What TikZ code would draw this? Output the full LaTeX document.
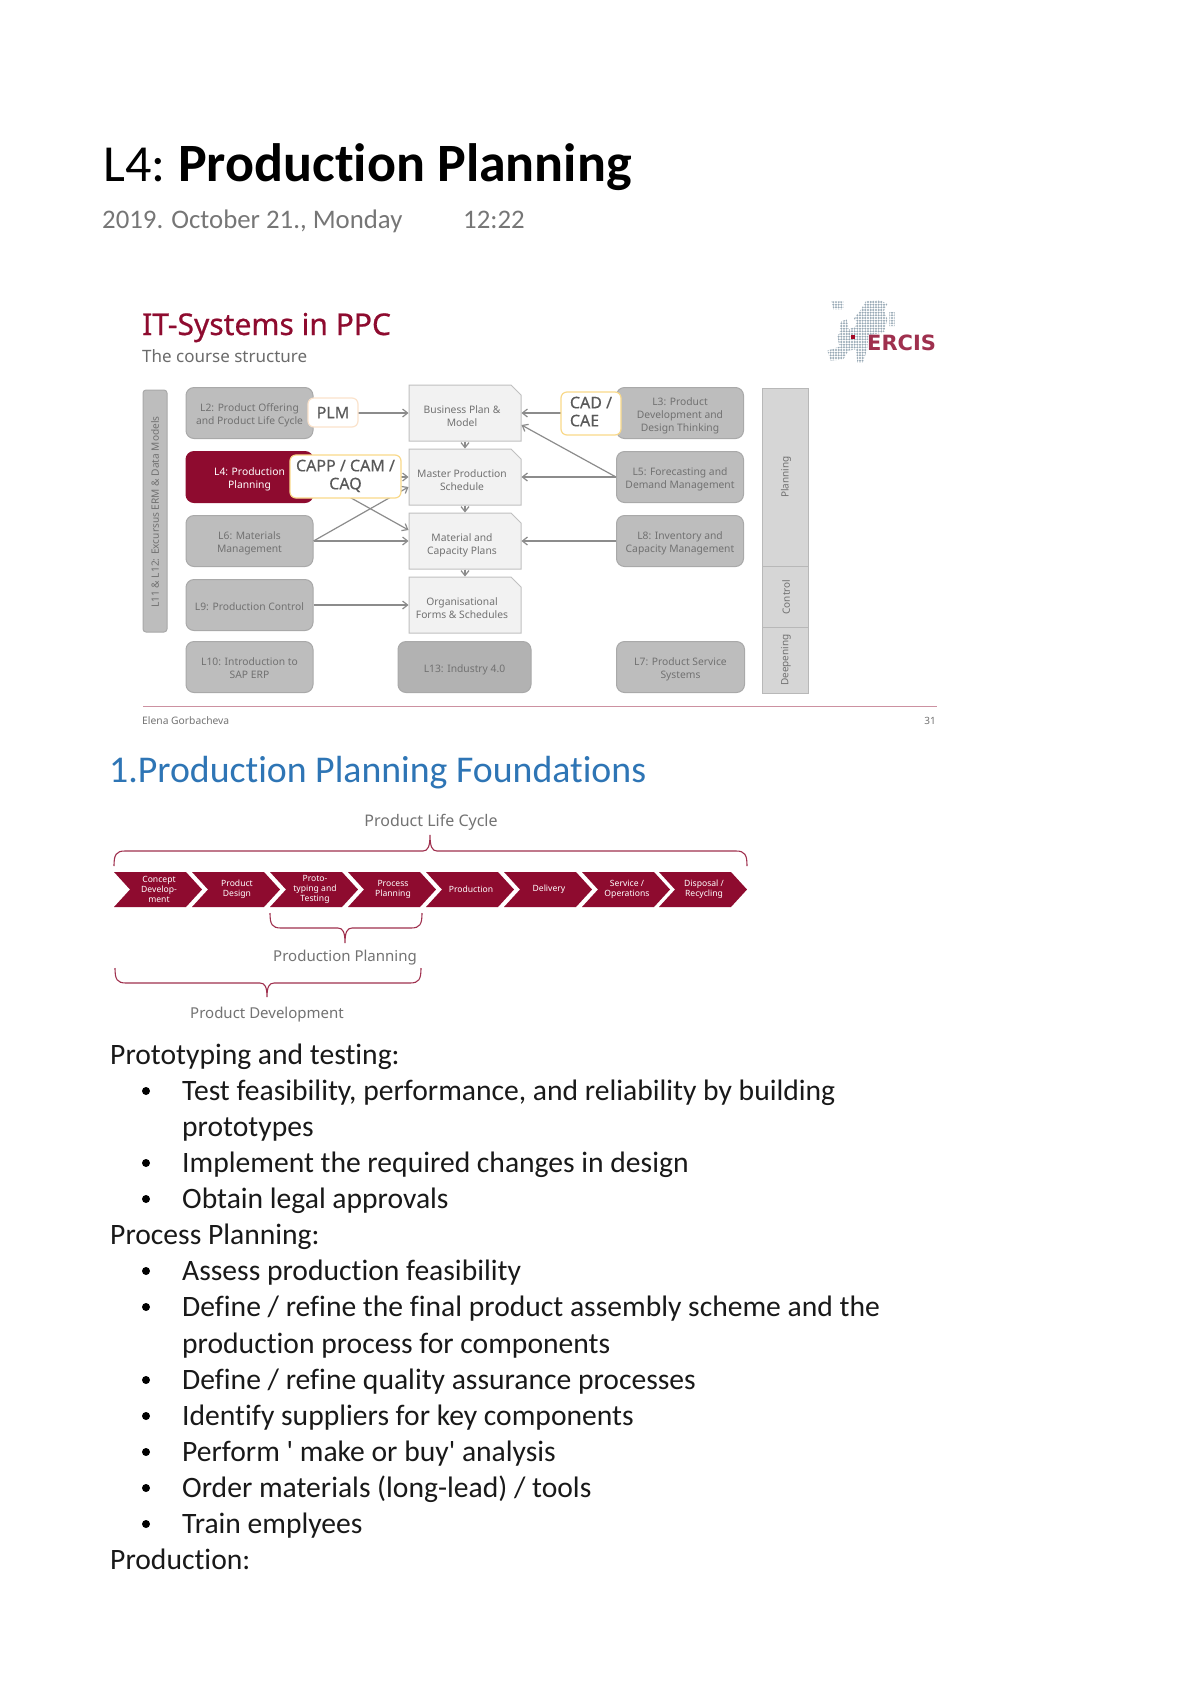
\documentclass[tikz,border=0pt]{standalone}
\usepackage{fontspec}
\usetikzlibrary{arrows.meta,shapes.misc}
\setmainfont[Ligatures={NoCommon}]{Carlito}
\newfontfamily\quotefont{Carlito}
\newfontfamily\slidefont{Noto Sans}
\newfontfamily\heavyslide[FakeBold=0.7]{Noto Sans}
\newfontfamily\calloutfont[FakeBold=0.4]{Noto Sans}
\newfontfamily\logofont{DejaVu Sans}
\definecolor{wine}{HTML}{8E0B2F}
\definecolor{boxfill}{HTML}{BDBDBD}
\definecolor{boxline}{HTML}{A9A9A9}
\definecolor{slidetext}{HTML}{717171}
\definecolor{docfill}{HTML}{F2F2F2}
\definecolor{docline}{HTML}{C0C0C0}
\definecolor{barfill}{HTML}{D6D6D6}
\definecolor{barline}{HTML}{B8B8B8}
\definecolor{arrowgray}{HTML}{8C8C8C}
\definecolor{orangeedge}{HTML}{F9D98A}
\definecolor{paleedge}{HTML}{FBE3CC}
\definecolor{headblue}{HTML}{2E75B5}
\definecolor{dategray}{HTML}{767676}
\definecolor{mapdot}{HTML}{97A8B5}
\newcommand{\fs}[1]{\fontsize{#1}{#1}\selectfont}
\newcommand{\sq}{{\quotefont'}}
\newcommand{\lines}[1]{\vbox{\kern5pt\hbox{\begin{tabular}{@{}c@{}}#1\end{tabular}}}}
\newcommand{\doclines}[1]{\vbox{\kern8pt\hbox{\begin{tabular}{@{}c@{}}#1\end{tabular}\kern6pt}}}
\newcommand{\mybrace}[6]{%
  \draw[bracestyle] (#1,#4) .. controls (#1,{#4+(#5-#4)*0.75}) and ({#1+2},#5) .. ({#1+11},#5)
    -- ({#2-7},#5) .. controls ({#2-2},#5) and (#2,{#5+(#6-#5)*0.3}) .. (#2,#6)
    .. controls (#2,{#5+(#6-#5)*0.3}) and ({#2+2},#5) .. ({#2+7},#5)
    -- ({#3-11},#5) .. controls ({#3-2},#5) and (#3,{#5+(#4-#5)*0.25}) .. (#3,#4);}
\newcommand{\chev}[3]{%
  \fill[wine] (#1,872) -- ({#1+72},872) -- ({#1+88},889.5) -- ({#1+72},907) -- (#1,907) -- ({#1+16},889.5) -- cycle;
  \node[chevtext] (#2) at ({#1+45},889.5) {#3};}
\tikzset{
  x=1pt,y=-1pt,
  lecture/.style={draw=boxline,fill=boxfill,line width=1pt,rounded corners=8pt,minimum width=127pt,minimum height=51pt,inner sep=0pt,text=slidetext,font=\slidefont\fontsize{10.3}{13}\selectfont},
  docbox/.style={chamfered rectangle,chamfered rectangle corners=north east,chamfered rectangle sep=5pt,draw=docline,fill=docfill,line width=1pt,minimum width=112pt,minimum height=56pt,inner sep=0pt,text=slidetext,font=\slidefont\fontsize{10.3}{13}\selectfont},
  sidebar/.style={draw=barline,fill=barfill,line width=1pt,minimum width=46pt,inner sep=0pt},
  sidelabel/.style={rotate=90,text=slidetext,font=\slidefont\fontsize{10}{12}\selectfont,inner sep=0pt},
  callout/.style={draw=orangeedge,fill=white,line width=1.2pt,rounded corners=6pt,inner sep=0pt,text=black!65,font=\calloutfont\fontsize{16}{19}\selectfont},
  link/.style={draw=arrowgray,line width=1.2pt,-{Straight Barb[length=5pt,width=8pt]}},
  bracestyle/.style={draw=wine!85,line width=1.1pt},
  chevtext/.style={text=white,align=center,inner sep=0pt,font=\slidefont\bfseries\fontsize{8.6}{10.3}\selectfont},
  slidecaption/.style={text=black!55,inner sep=0pt,font=\slidefont\fontsize{15}{17}\selectfont},
  bodyline/.style={anchor=base west,inner sep=0pt,text=black!90,font=\fs{29.6}},
  dotmark/.style={circle,fill=black,inner sep=0pt,minimum size=8pt},
  plain/.style={anchor=base west,inner sep=0pt}
}
\begin{document}
\begin{tikzpicture}
\useasboundingbox (0,0) rectangle (1200,1698);
\fill[white] (0,0) rectangle (1200,1698);
% page header
\node[plain,font=\fs{52}] (pagetitle) at (103,181) {L4:};
\node[plain,font=\fs{54}\bfseries] (pagetitleb) at (178,181) {Production Planning};
\node[plain,font=\fs{26.8},text=dategray] (pagedate) at (102,228) {2019. October 21., Monday};
\node[plain,font=\fs{26.8},text=dategray] (pagetime) at (463,228) {12:22};
% slide header
\node[plain,text=wine,font=\heavyslide\fontsize{30}{34}\selectfont] (slidetitle) at (142,335) {IT-Systems in PPC};
\node[plain,text=black!58,font=\slidefont\fontsize{17}{20}\selectfont] (slidesub) at (142,362) {The course structure};
% logo
\begin{scope}[shift={(820,290)},x=0.3333pt,y=-0.3333pt]
  \begin{scope}
    \clip (34,34)--(70,34)--(70,58)--(40,58)--cycle
      (62,95)--(80,88)--(88,125)--(58,132)--cycle
      (208,66)--(224,66)--(224,108)--(208,108)--cycle
      (100,88)--(122,60)--(138,33)--(178,30)--(202,42)--(192,62)--(202,88)--(192,128)--(145,135)--(142,178)--(128,218)--(112,218)--(108,178)--(85,182)--(70,208)--(32,212)--(22,182)--(58,170)--(52,135)--(78,122)--(106,110)--(110,92)--cycle;
    \foreach \i in {0,...,26} \foreach \j in {0,...,25}
      \fill[mapdot] ({16+8*\i},{28+8*\j}) circle[radius=1.15pt];
  \end{scope}
  \fill[wine!80!red] (94,134) rectangle (106,146);
\end{scope}
\node[anchor=base west,inner sep=0pt,text=wine!85,font=\logofont\bfseries\fontsize{21}{22}\selectfont] (logotext) at (867,350) {ERCIS};
% left bar
\node[draw=boxline,fill=boxfill,line width=1pt,rounded corners=3pt,minimum width=24pt,minimum height=242pt,inner sep=0pt] (modelbar) at (155,511) {};
\node[sidelabel,font=\slidefont\fontsize{10.15}{12}\selectfont] (modellabel) at (155,512) {L11 \& L12: Excursus ERM \& Data Models};
% lecture boxes
\node[lecture] (l2) at (249.5,413) {\lines{L2: Product Offering\\and Product Life Cycle}};
\node[lecture,fill=wine,draw=wine,text=white,font=\slidefont\bfseries\fontsize{10.3}{13}\selectfont] (l4) at (249.5,477) {\lines{L4: Production\\Planning}};
\node[lecture] (l6) at (249.5,541) {\lines{L6: Materials\\Management}};
\node[lecture] (l9) at (249.5,605) {\lines{L9: Production Control}};
\node[lecture] (l10) at (249.5,667) {\lines{L10: Introduction to\\SAP ERP}};
\node[lecture,minimum width=133pt,fill=boxfill!94!black] (l13) at (464.5,667) {\lines{L13: Industry 4.0}};
\node[lecture] (l3) at (680,413) {\lines{L3: Product\\Development and\\Design Thinking}};
\node[lecture] (l5) at (680,477) {\lines{L5: Forecasting and\\Demand Management}};
\node[lecture] (l8) at (680,541) {\lines{L8: Inventory and\\Capacity Management}};
\node[lecture,minimum width=128pt] (l7) at (680.5,667) {\lines{L7: Product Service\\Systems}};
% documents
\node[docbox] (plan) at (465,413) {\doclines{Business Plan \&\\Model}};
\node[docbox] (master) at (465,477) {\doclines{Master Production\\Schedule}};
\node[docbox] (material) at (465,541) {\doclines{Material and\\Capacity Plans}};
\node[docbox] (forms) at (465,605) {\doclines{Organisational\\Forms \& Schedules}};
% right bars
\node[sidebar,minimum height=178pt] (barplan) at (785,477) {};
\node[sidebar,minimum height=61pt] (barctrl) at (785,596.5) {};
\node[sidebar,minimum height=66pt] (bardeep) at (785,660) {};
\node[sidelabel] (labplan) at (786,477) {Planning};
\node[sidelabel] (labctrl) at (786,597) {Control};
\node[sidelabel] (labdeep) at (786,660) {Deepening};
% connectors
\coordinate (planlow) at ([yshift=-12pt]plan.east);
\coordinate (masterlow) at ([yshift=-10pt]master.west);
\coordinate (materialhigh) at ([yshift=11pt]material.west);
\draw[link] (l4.east) -- (master.west);
\draw[link] (l4.east) -- (materialhigh);
\draw[link] (l6.east) -- (masterlow);
\draw[link] (l6.east) -- (material.west);
\draw[link] (l9.east) -- (forms.west);
\draw[link] (l3.west) -- (plan.east);
\draw[link] (l5.west) -- (planlow);
\draw[link] (l5.west) -- (master.east);
\draw[link] (l8.west) -- (material.east);
\draw[link] (plan.south) -- (master.north);
\draw[link] (master.south) -- (material.north);
\draw[link] (material.south) -- (forms.north);
\draw[link] (l2.east) -- (plan.west);
% callouts
\node[callout,draw=paleedge,minimum width=50pt,minimum height=29pt] (plm) at (333,412.5) {PLM};
\node[callout,minimum width=111pt,minimum height=43pt] (capp) at (345.5,476.5) {\begin{tabular}{@{}c@{}}CAPP / CAM /\\[-1pt]CAQ\end{tabular}};
\node[callout,minimum width=60pt,minimum height=43pt] (cad) at (591,413.5) {\begin{tabular}{@{}l@{}}CAD /\\[-1pt]CAE\end{tabular}};
% footer
\draw[draw=wine!45,line width=1pt] (143,706) -- (937,706);
\node[plain,text=black!55,font=\slidefont\fontsize{10.3}{12}\selectfont] (author) at (142,724) {Elena Gorbacheva};
\node[anchor=base east,inner sep=0pt,text=black!55,font=\slidefont\fontsize{10}{12}\selectfont] (pagenum) at (936,724) {31};
% heading
\node[plain,text=headblue,font=\fs{37.8}] (heading) at (109,782) {1.Production Planning Foundations};
% life cycle
\node[slidecaption,font=\slidefont\fontsize{16}{18}\selectfont] (plc) at (431,822) {Product Life Cycle};
\mybrace{114}{430}{747}{866}{851}{835}
\chev{114}{c1}{Concept\\Develop-\\ment}
\chev{192}{c2}{Product\\Design}
\chev{270}{c3}{Proto-\\typing and\\Testing}
\chev{348}{c4}{Process\\Planning}
\chev{426}{c5}{Production}
\chev{504}{c6}{Delivery}
\chev{582}{c7}{Service /\\Operations}
\chev{659}{c8}{Disposal /\\Recycling}
\mybrace{270}{345}{422}{913}{928}{943}
\node[slidecaption] (pp) at (345,958) {Production Planning};
\mybrace{115}{267}{421}{968}{983}{997}
\node[slidecaption] (pd) at (267,1015) {Product Development};
% body
\node[bodyline] (t1) at (110,1064) {Prototyping and testing:};
\node[dotmark] (b1) at (146,1091) {};
\node[bodyline] (t2) at (182,1100) {Test feasibility, performance, and reliability by building};
\node[bodyline] (t3) at (182,1136) {prototypes};
\node[dotmark] (b2) at (146,1163) {};
\node[bodyline] (t4) at (182,1172) {Implement the required changes in design};
\node[dotmark] (b3) at (146,1199) {};
\node[bodyline] (t5) at (182,1208) {Obtain legal approvals};
\node[bodyline] (t6) at (110,1244) {Process Planning:};
\node[dotmark] (b4) at (146,1271) {};
\node[bodyline] (t7) at (182,1280) {Assess production feasibility};
\node[dotmark] (b5) at (146,1307) {};
\node[bodyline] (t8) at (182,1316) {Define / refine the final product assembly scheme and the};
\node[bodyline] (t9) at (182,1353) {production process for components};
\node[dotmark] (b6) at (146,1380) {};
\node[bodyline] (t10) at (182,1389) {Define / refine quality assurance processes};
\node[dotmark] (b7) at (146,1416) {};
\node[bodyline] (t11) at (182,1425) {Identify suppliers for key components};
\node[dotmark] (b8) at (146,1452) {};
\node[bodyline] (t12) at (182,1461) {Perform \sq{} make or buy\sq{} analysis};
\node[dotmark] (b9) at (146,1488) {};
\node[bodyline] (t13) at (182,1497) {Order materials (long-lead) / tools};
\node[dotmark] (b10) at (146,1524) {};
\node[bodyline] (t14) at (182,1533) {Train emplyees};
\node[bodyline] (t15) at (110,1569) {Production:};
\end{tikzpicture}
\end{document}
